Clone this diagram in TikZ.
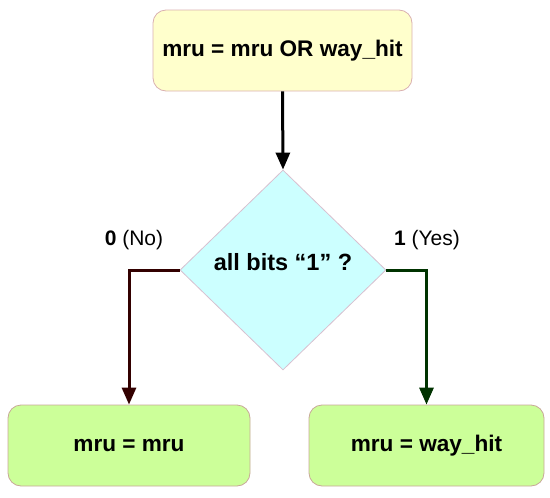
\documentclass[tikz,border=0pt]{standalone}
\usepackage{fontspec}
\setmainfont{Liberation Sans}
\usetikzlibrary{shapes.geometric,arrows.meta}
\definecolor{yfill}{HTML}{FFFFCC}
\definecolor{yedge}{HTML}{D9B0B0}
\definecolor{cfill}{HTML}{CCFFFF}
\definecolor{cedge}{HTML}{D8C0D0}
\definecolor{gfill}{HTML}{CCFF99}
\definecolor{gedge}{HTML}{C8A898}
\definecolor{brownline}{HTML}{330000}
\definecolor{greenline}{HTML}{003300}
\tikzset{
  box/.style={draw=#1, line width=0.8pt, rounded corners=13pt, minimum height=81pt, inner sep=0pt,
    font=\fontsize{22.6}{26}\selectfont\bfseries},
  conn/.style={line width=3pt, -{Triangle[length=17pt,width=14pt]}},
  lab/.style={font=\fontsize{21}{24}\selectfont, inner sep=0pt}
}
\begin{document}
\begin{tikzpicture}[x=1pt,y=-1pt]
\useasboundingbox (0,0) rectangle (550,498);
\node[box=yedge, fill=yfill, minimum width=259pt] (top) at (282.5,50.5) {mru = mru OR way\_hit};
\node[draw=cedge, fill=cfill, line width=0.8pt, diamond, minimum width=206pt, minimum height=200pt, inner sep=0pt] (d) at (283,270) {};
\node[font=\fontsize{23.5}{27}\selectfont\bfseries, inner sep=0pt] (dtext) at (283,262) {all bits “1” ?};
\node[box=gedge, fill=gfill, minimum width=242pt] (lb) at (129,445.5) {mru = mru};
\node[box=gedge, fill=gfill, minimum width=235pt] (rb) at (426.5,445.5) {mru = way\_hit};
\draw[conn, black] (top.south) -- (d.north);
\draw[conn, brownline] (d.west) -| (lb.north);
\draw[conn, greenline] (d.east) -| (rb.north);
\node[lab] (l0) at (134,240) {\textbf{0} (No)};
\node[lab] (l1) at (427,240) {\textbf{1} (Yes)};
\end{tikzpicture}
\end{document}
